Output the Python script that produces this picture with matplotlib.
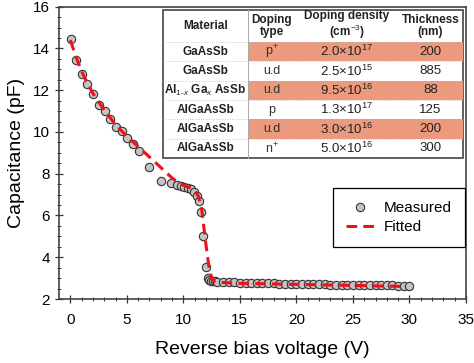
import matplotlib
matplotlib.use("Agg")
import matplotlib.pyplot as plt
from matplotlib.patches import Rectangle

plt.rcParams['font.family'] = ['Liberation Sans', 'DejaVu Sans']
plt.rcParams['mathtext.fontset'] = 'custom'
plt.rcParams['mathtext.rm'] = 'Liberation Sans'
plt.rcParams['mathtext.it'] = 'Liberation Sans:italic'
plt.rcParams['mathtext.bf'] = 'Liberation Sans:bold'

# measured C-V points
v_meas = [0.05, 0.5, 1.0, 1.5, 2.0, 2.55, 3.05, 3.5, 4.0, 4.55, 5.05, 5.55, 6.05,
          7.0, 8.0, 8.95, 9.45, 9.8, 10.1, 10.4, 10.7, 10.95, 11.2, 11.4, 11.6,
          11.75, 12.0, 12.15, 12.3, 12.45, 12.6, 12.8, 13.0,
          13.5, 14.0, 14.5, 15.0, 15.5, 16.0, 16.5, 17.0, 17.5, 18.0, 18.5, 19.0,
          19.5, 20.0, 20.5, 21.0, 21.5, 22.0, 22.5, 23.0, 23.5, 24.0, 24.5, 25.0,
          25.5, 26.0, 26.5, 27.0, 27.5, 28.0, 28.5, 29.0, 29.5, 30.0]
c_meas = [14.43, 13.47, 12.8, 12.32, 11.81, 11.28, 11.0, 10.6, 10.24, 10.04, 9.72, 9.42, 9.1,
          8.33, 7.67, 7.54, 7.48, 7.43, 7.38, 7.32, 7.25, 7.14, 6.95, 6.7, 6.18,
          5.01, 3.55, 2.99, 2.9, 2.87, 2.85, 2.84, 2.83,
          2.82, 2.81, 2.80, 2.79, 2.78, 2.77, 2.77, 2.76, 2.75, 2.75, 2.74, 2.73,
          2.73, 2.72, 2.72, 2.71, 2.71, 2.70, 2.70, 2.69, 2.69, 2.68, 2.68, 2.67,
          2.67, 2.67, 2.66, 2.66, 2.65, 2.65, 2.65, 2.64, 2.64, 2.63]

# fitted curve
v_fit = [0.0, 0.5, 1.0, 1.5, 2.0, 3.0, 4.0, 5.0, 6.0, 7.0, 8.0, 9.0, 9.5, 10.0,
         10.5, 11.0, 11.3, 11.6, 12.0, 12.3, 12.6, 13.0, 15.0, 20.0, 25.0, 29.5]
c_fit = [14.4, 13.6, 12.9, 12.35, 11.85, 11.05, 10.35, 9.8, 9.3, 8.8, 8.3, 7.8, 7.6, 7.45,
         7.35, 7.2, 6.95, 6.4, 4.6, 3.4, 2.85, 2.8, 2.75, 2.7, 2.65, 2.6]

# layer table
materials = ["GaAsSb", "GaAsSb", r"Al$_{1\text{-}x}$ Ga$_x$ AsSb", "AlGaAsSb", "AlGaAsSb", "AlGaAsSb"]
doping_type = [r"p$^{+}$", "u.d", "u.d", "p", "u.d", r"n$^{+}$"]
doping_density = [r"2.0×10$^{17}$", r"2.5×10$^{15}$", r"9.5×10$^{16}$",
                  r"1.3×10$^{17}$", r"3.0×10$^{16}$", r"5.0×10$^{16}$"]
thickness = ["200", "885", "88", "125", "200", "300"]
headers = ["Material", "Doping\ntype", "Doping density\n(cm$^{-3}$)", "Thickness\n(nm)"]

fig = plt.figure(figsize=(4.74, 3.63), dpi=100)
ax = fig.add_axes([0.1245, 0.1763, 0.8585, 0.8052])

ax.plot(v_meas, c_meas, 'o', ms=6, mfc='#c4c4c4', mec='#333333', mew=0.8,
        label='Measured', zorder=3)
ax.plot(v_fit, c_fit, '--', color='#f0101a', lw=2.2, dashes=(3.5, 2),
        label='Fitted', zorder=4)

ax.set_xlim(-1, 35)
ax.set_ylim(2, 16)
ax.set_xticks(range(0, 36, 5))
ax.set_yticks(range(2, 17, 2))
ax.set_xticks(range(0, 36, 1), minor=True)
ax.set_yticks([2 + 0.5 * i for i in range(29)], minor=True)
ax.tick_params(which='major', direction='inout', length=6, width=0.9,
               labelsize=11, color='#333333')
ax.tick_params(axis='x', which='major', pad=7)
ax.tick_params(which='minor', direction='inout', length=3, width=0.7, color='#333333')
for s in ax.spines.values():
    s.set_color('#444444')
    s.set_linewidth(1.2)

ax.set_xlabel('Reverse bias voltage (V)', fontsize=14, labelpad=10)
ax.set_ylabel('Capacitance (pF)', fontsize=14, labelpad=6)

leg = ax.legend(loc='upper right', bbox_to_anchor=(0.997, 0.38), borderaxespad=0,
                fontsize=11, fancybox=False, edgecolor='black', framealpha=1,
                handlelength=1.9, handletextpad=0.6, borderpad=0.85, labelspacing=0.35)
leg.get_frame().set_linewidth(0.9)

# table drawn in axes fraction
tl, tr, tt, tb = 0.2555, 0.9926, 0.990, 0.482
hb = 0.879
col_edges = [tl, 0.464, 0.582, 0.833, tr]
row_h = (hb - tb) / len(materials)
shade = '#ec9a7e'

ax.add_patch(Rectangle((tl, tb), tr - tl, tt - tb, transform=ax.transAxes,
                       facecolor='white', edgecolor='#444444', lw=1.2, zorder=5))
for i in range(len(materials)):
    y0 = hb - (i + 1) * row_h
    if i % 2 == 0:
        ax.add_patch(Rectangle((col_edges[1], y0), tr - col_edges[1], row_h,
                               transform=ax.transAxes, facecolor=shade,
                               edgecolor='none', zorder=6))
    if i < len(materials) - 1:
        ax.plot([tl, tr], [y0, y0], transform=ax.transAxes, color='#bbbbbb',
                lw=0.6, ls=':', zorder=6)
ax.plot([tl, tr], [hb, hb], transform=ax.transAxes, color='#bbbbbb', lw=0.6,
        ls=':', zorder=6)
ax.plot([col_edges[1], col_edges[1]], [tb, tt], transform=ax.transAxes,
        color='#aaaaaa', lw=0.7, zorder=6)

centers = [(col_edges[k] + col_edges[k + 1]) / 2 for k in range(4)]
for k, h in enumerate(headers):
    ax.text(centers[k], (tt + hb) / 2, h, transform=ax.transAxes, ha='center',
            va='center', fontsize=8.5, fontweight='bold', zorder=7, linespacing=1.05,
            color='#222222')
for i in range(len(materials)):
    yc = hb - (i + 0.5) * row_h
    ax.text(centers[0], yc, materials[i], transform=ax.transAxes, ha='center',
            va='center', fontsize=8.5, fontweight='bold', zorder=7, color='#222222')
    ax.text(centers[1], yc, doping_type[i], transform=ax.transAxes, ha='center',
            va='center', fontsize=9, zorder=7, color='#333333')
    ax.text(centers[2], yc, doping_density[i], transform=ax.transAxes, ha='center',
            va='center', fontsize=9.5, zorder=7, color='#222222')
    ax.text(centers[3], yc, thickness[i], transform=ax.transAxes, ha='center',
            va='center', fontsize=9.5, zorder=7, color='#222222')

fig.savefig('out.png', dpi=100)
